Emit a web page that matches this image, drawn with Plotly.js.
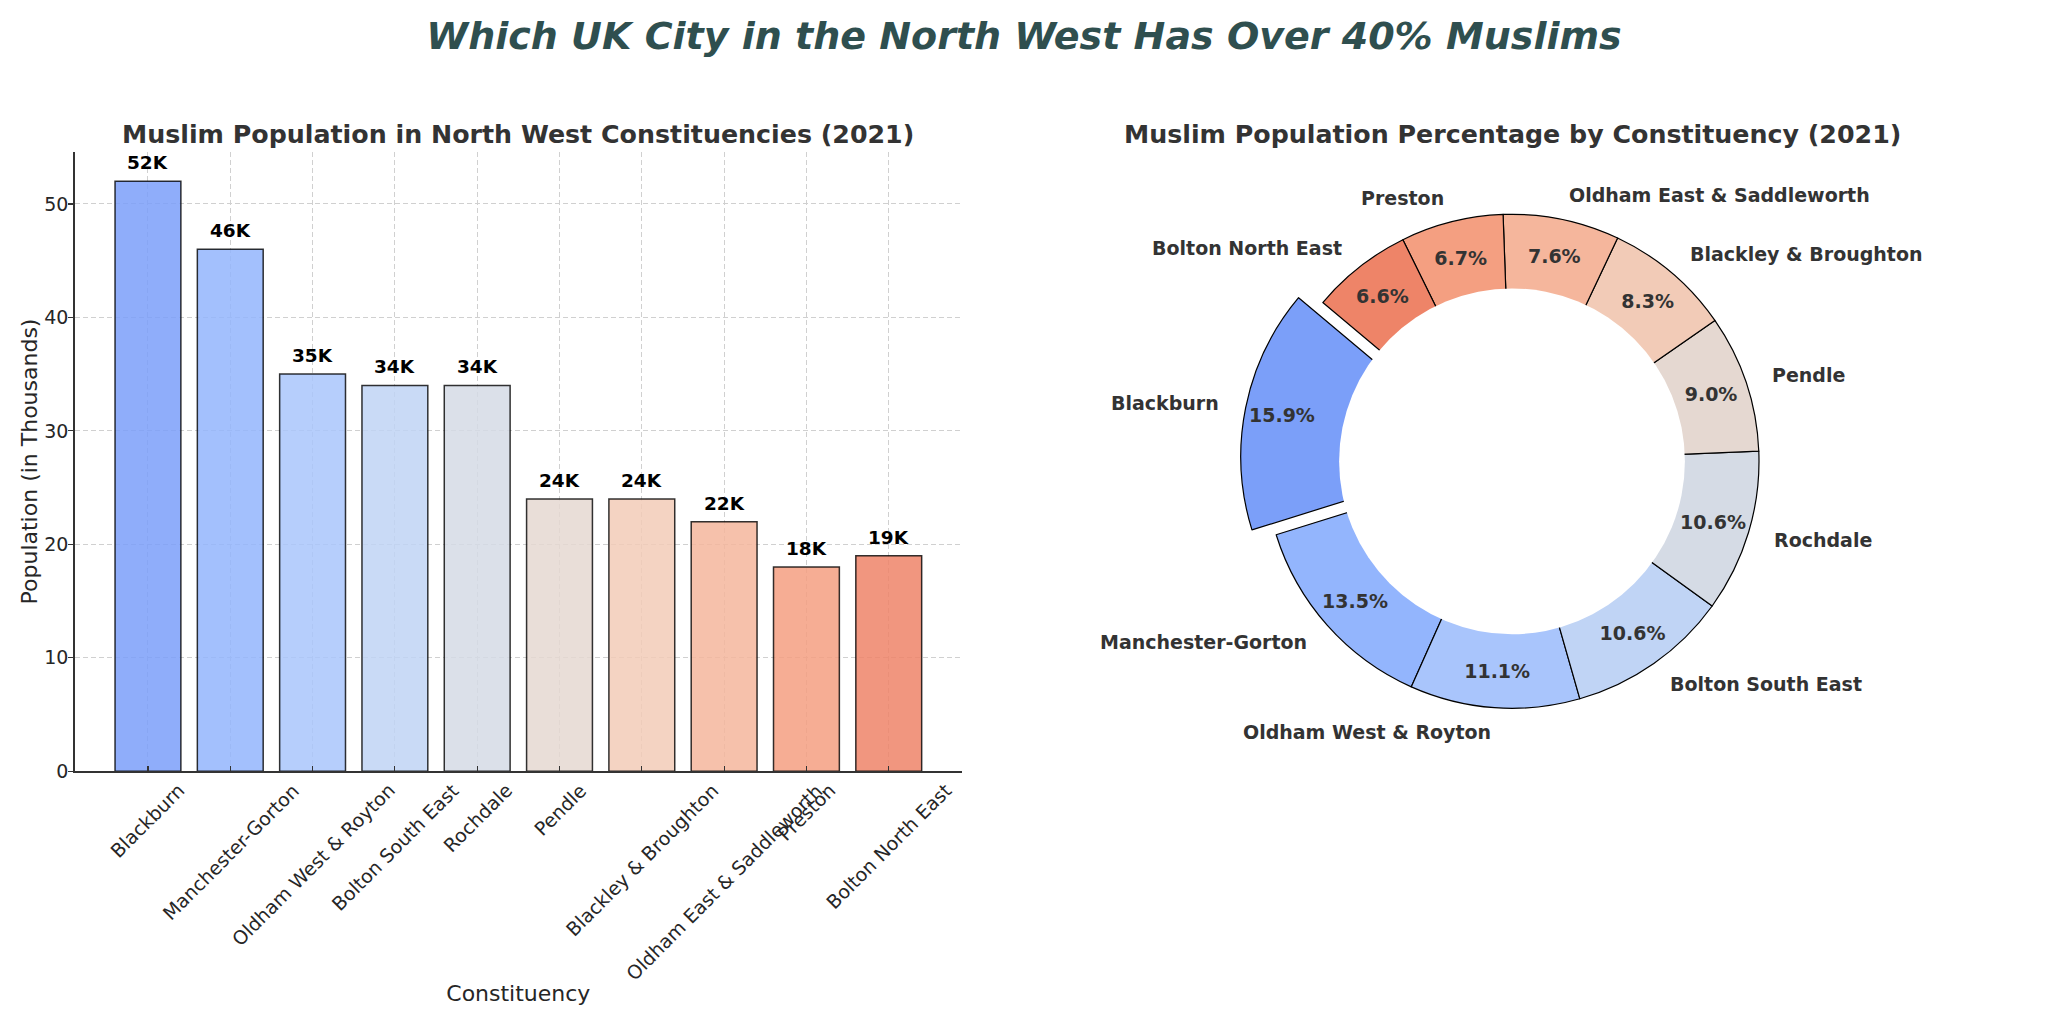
<!DOCTYPE html>
<html>
<head>
<meta charset="utf-8">
<script src="https://cdn.plot.ly/plotly-3.0.1.min.js"></script>
<style>html,body{margin:0;padding:0;background:#fff;}#chart{width:2048px;height:1024px;}</style>
</head>
<body>
<div id="chart"></div>
<script>
// ---- data ----
const categories = ['Blackburn', 'Manchester-Gorton', 'Oldham West & Royton', 'Bolton South East', 'Rochdale',
  'Pendle', 'Blackley & Broughton', 'Oldham East & Saddleworth', 'Preston', 'Bolton North East'];
const populationK = [52, 46, 35, 34, 34, 24, 24, 22, 18, 19];
const muslimShare = [15.9, 13.5, 11.1, 10.6, 10.6, 9.0, 8.3, 7.6, 6.7, 6.6];
const explode = [0.1, 0, 0, 0, 0, 0, 0, 0, 0, 0];
const colors = ['#7b9ff9', '#93b5fd', '#a9c5fc', '#c0d4f5', '#d5dbe5', '#e5d8d1', '#f2cbb7', '#f5b69c', '#f49f81', '#ee8468'];

// ---- styling / geometry ----
const W = 2048, H = 1024;
const FONT = 'DejaVu Sans, Verdana, sans-serif';
const barDomX = [74.7 / W, 962 / W];
const barDomY = [1 - 771.3 / H, 1 - 151.7 / H];
const PIE_CX = 1512, PIE_CY = 461.3, PIE_R = 247, START = 140, HOLE = 0.7;
const maxPull = Math.max(...explode);
const half = PIE_R * (1 + maxPull);
const pieDomX = [(PIE_CX - half) / W, (PIE_CX + half) / W];
const pieDomY = [1 - (PIE_CY + half) / H, 1 - (PIE_CY - half) / H];

function rgba(hex, a) {
  const n = parseInt(hex.slice(1), 16);
  return `rgba(${(n >> 16) & 255},${(n >> 8) & 255},${n & 255},${a})`;
}

const total = muslimShare.reduce((a, b) => a + b, 0);
const rotation = 90 - START - 360 * muslimShare[0] / total;

const barTrace = {
  type: 'bar', x: categories, y: populationK, width: 0.8,
  marker: { color: colors.map(c => rgba(c, 0.85)), line: { color: 'rgba(0,0,0,0.8)', width: 1.5 } },
  xaxis: 'x', yaxis: 'y', hoverinfo: 'skip'
};

// full wedges (the white centre circle is laid on top, as in the original)
const pieWedges = {
  type: 'pie', labels: categories, values: muslimShare, sort: false,
  direction: 'counterclockwise', rotation: rotation, hole: 0, pull: explode,
  marker: { colors: colors, line: { color: '#000000', width: 1.2 } },
  textinfo: 'none', domain: { x: pieDomX, y: pieDomY },
  showlegend: false, hoverinfo: 'skip'
};
// percentage labels placed in the ring
const pieText = {
  type: 'pie', labels: categories, values: muslimShare, sort: false,
  direction: 'counterclockwise', rotation: rotation, hole: HOLE, pull: explode,
  marker: { colors: colors.map(() => 'rgba(0,0,0,0)'), line: { width: 0 } },
  textinfo: 'percent', texttemplate: '%{percent:.1%}',
  textposition: 'inside', insidetextorientation: 'horizontal',
  textfont: { family: FONT, size: 19, color: '#333333', weight: 'bold' },
  domain: { x: pieDomX, y: pieDomY },
  showlegend: false, hoverinfo: 'skip'
};

const annotations = [];
categories.forEach((c, i) => {
  annotations.push({
    x: c, y: populationK[i], xref: 'x', yref: 'y', text: populationK[i] + 'K',
    showarrow: false, xanchor: 'center', yanchor: 'bottom', yshift: 6,
    font: { family: FONT, size: 18.5, color: '#000000', weight: 'bold' }
  });
  annotations.push({
    x: c, y: 0, xref: 'x', yref: 'y', text: c, textangle: -45,
    showarrow: false, xanchor: 'center', yanchor: 'top', yshift: -5,
    font: { family: FONT, size: 19, color: '#262626' }
  });
});
let cum = 0;
muslimShare.forEach((v, i) => {
  const frac = (cum + v / 2) / total;
  cum += v;
  const th = (START + 360 * frac) * Math.PI / 180;
  const rr = PIE_R * (1.1 + explode[i]);
  const px = PIE_CX + rr * Math.cos(th);
  const py = PIE_CY - rr * Math.sin(th);
  annotations.push({
    x: px / W, y: 1 - py / H, xref: 'paper', yref: 'paper', text: categories[i],
    showarrow: false, xanchor: Math.cos(th) > 0 ? 'left' : 'right', yanchor: 'middle',
    font: { family: FONT, size: 19, color: '#333333', weight: 'bold' }
  });
});
annotations.push({
  x: (barDomX[0] + barDomX[1]) / 2, y: 1 - 134.5 / H, xref: 'paper', yref: 'paper',
  text: 'Muslim Population in North West Constituencies (2021)', showarrow: false,
  xanchor: 'center', yanchor: 'middle',
  font: { family: FONT, size: 25.3, color: '#333333', weight: 'bold' }
});
annotations.push({
  x: PIE_CX / W, y: 1 - 134.5 / H, xref: 'paper', yref: 'paper',
  text: 'Muslim Population Percentage by Constituency (2021)', showarrow: false,
  xanchor: 'center', yanchor: 'middle',
  font: { family: FONT, size: 25.3, color: '#333333', weight: 'bold' }
});

const shapes = [{
  type: 'circle', xref: 'paper', yref: 'paper', layer: 'above',
  x0: (PIE_CX - HOLE * PIE_R) / W, x1: (PIE_CX + HOLE * PIE_R) / W,
  y0: 1 - (PIE_CY + HOLE * PIE_R) / H, y1: 1 - (PIE_CY - HOLE * PIE_R) / H,
  fillcolor: '#ffffff', line: { width: 0 }
}];

const layout = {
  width: W, height: H,
  margin: { l: 0, r: 0, t: 0, b: 0 },
  paper_bgcolor: '#ffffff', plot_bgcolor: '#ffffff',
  showlegend: false,
  font: { family: FONT, color: '#262626' },
  title: {
    text: 'Which UK City in the North West Has Over 40% Muslims',
    font: { family: FONT, size: 38, color: '#2F4F4F', weight: 'bold', style: 'italic' },
    x: 0.5, xanchor: 'center', xref: 'paper', y: 1 - 35.5 / H, yanchor: 'middle', yref: 'container'
  },
  xaxis: {
    domain: barDomX, anchor: 'y', type: 'category', range: [-0.89, 9.89],
    showticklabels: false, ticks: 'inside', ticklen: 5, tickwidth: 1.2, tickcolor: '#333333',
    showline: true, linecolor: '#333333', linewidth: 1.5,
    showgrid: true, gridcolor: '#d0d0d0', gridwidth: 1, griddash: '5px,3px',
    zeroline: false,
    title: { text: 'Constituency', font: { family: FONT, size: 22, color: '#262626' }, standoff: 214 }
  },
  yaxis: {
    domain: barDomY, anchor: 'x', range: [0, 54.6], dtick: 10, tick0: 0,
    ticks: 'outside', ticklen: 5, tickwidth: 1.2, tickcolor: '#333333',
    tickfont: { family: FONT, size: 19, color: '#262626' }, ticklabelstandoff: -4,
    showline: true, linecolor: '#333333', linewidth: 1.5,
    showgrid: true, gridcolor: '#d0d0d0', gridwidth: 1, griddash: '5px,3px',
    zeroline: false,
    title: { text: 'Population (in Thousands)', font: { family: FONT, size: 22, color: '#262626' }, standoff: 0 }
  },
  shapes: shapes,
  annotations: annotations
};

Plotly.newPlot('chart', [barTrace, pieWedges, pieText], layout, { staticPlot: true, displayModeBar: false });
</script>
</body>
</html>
